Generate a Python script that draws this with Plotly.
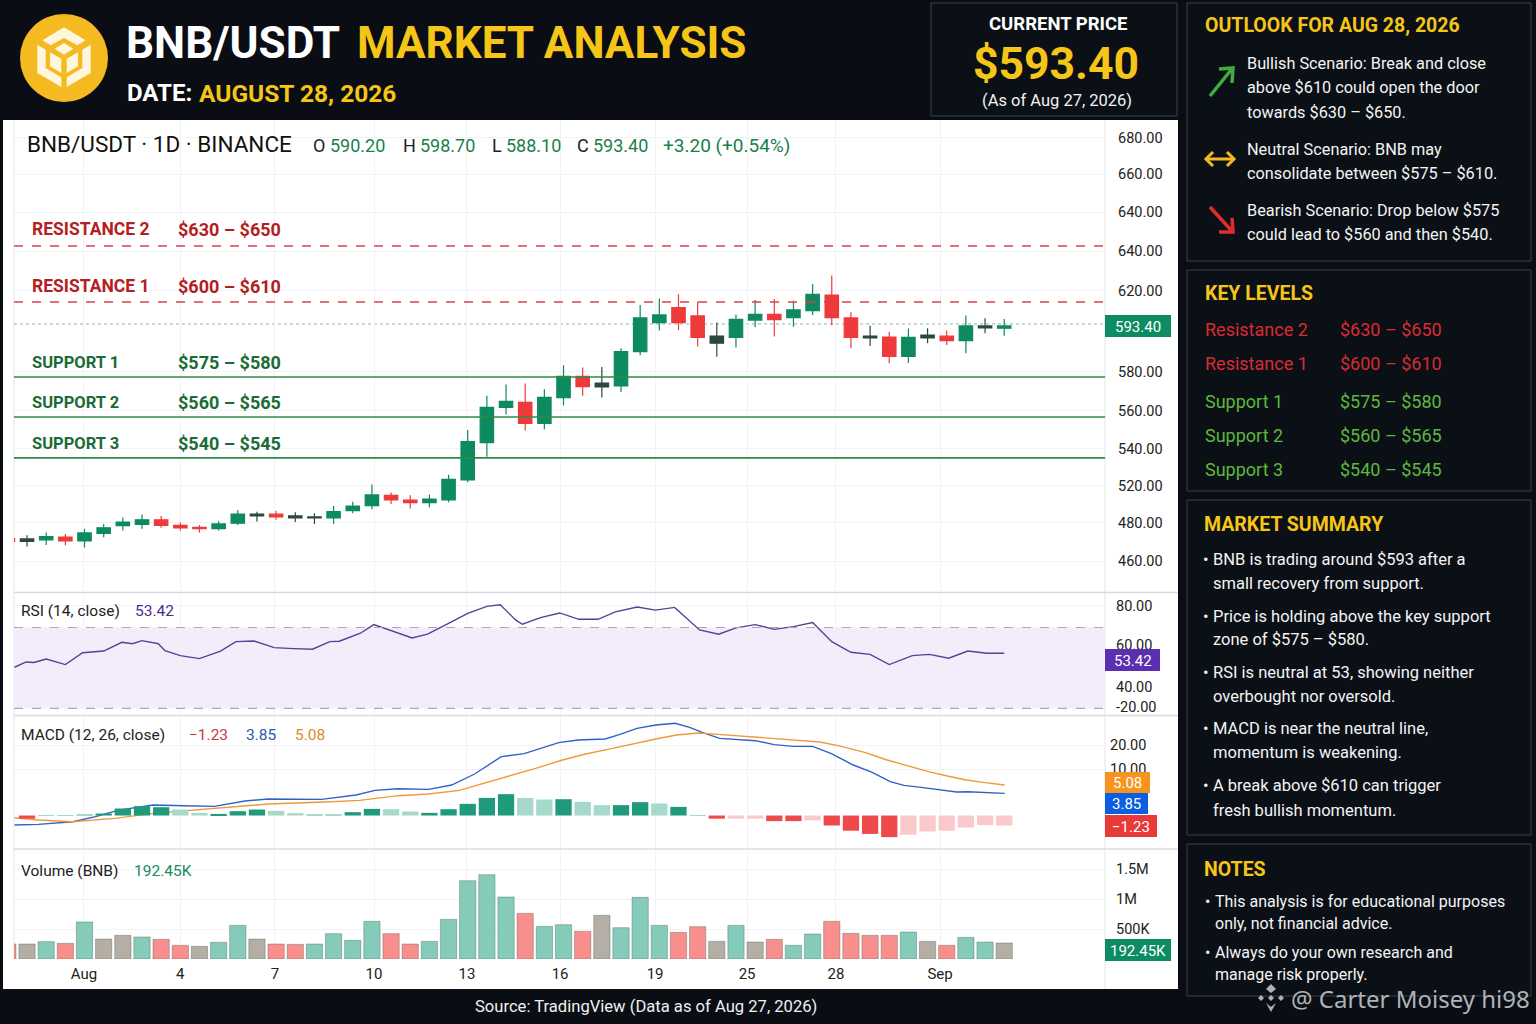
import plotly.graph_objects as go

W, H = 1536, 1024

# price panel, values
candle_x = list(range(-1, 52))
opens = [493.0, 491.6, 492.3, 493.8, 491.8, 495.7, 499.6, 500.3, 502.6, 499.8, 498.8, 498.1, 500.9, 504.6, 505.5, 503.6, 503.6, 503.6,
         507.3, 509.9, 515.2, 512.8, 511.4, 512.8, 523.1, 542.2, 560.3, 562.9, 552.1, 565.3, 576.2, 570.8, 571.3, 588.9, 603.8, 611.5,
         607.2, 593.2, 596.2, 605.1, 608.0, 606.3, 609.9, 617.9, 606.2, 596.8, 596.4, 586.5, 595.9, 596.8, 594.5, 601.0, 600.9]
highs = [494.0, 494.7, 496.1, 495.4, 498.1, 500.5, 503.8, 505.3, 504.6, 501.2, 500.0, 501.9, 507.7, 506.8, 507.3, 506.5, 506.0, 509.7,
         511.9, 520.7, 516.6, 515.2, 515.6, 525.8, 548.7, 566.3, 572.0, 572.5, 569.6, 581.9, 580.7, 581.0, 590.6, 612.8, 616.2, 618.3,
         614.5, 603.8, 607.9, 615.4, 615.9, 615.0, 623.6, 628.0, 609.1, 602.2, 599.1, 600.7, 600.9, 599.7, 607.4, 606.0, 605.6]
lows = [490.6, 488.9, 489.7, 489.6, 488.4, 493.7, 497.1, 498.1, 498.6, 497.1, 496.1, 497.1, 500.0, 501.7, 502.6, 501.5, 500.5, 500.5,
        506.0, 508.0, 510.8, 508.4, 509.1, 511.6, 521.9, 535.0, 556.6, 548.4, 548.9, 561.2, 566.3, 565.3, 568.2, 587.0, 599.7, 600.0,
        591.5, 586.3, 591.0, 601.4, 596.6, 601.7, 607.7, 602.4, 590.6, 591.8, 582.9, 583.1, 593.2, 592.3, 588.0, 598.3, 597.1]
closes = [491.6, 492.8, 494.0, 491.8, 495.9, 498.5, 501.4, 502.6, 499.8, 498.5, 498.1, 500.5, 505.5, 505.5, 504.1, 504.6, 504.1, 506.8,
          509.7, 515.4, 512.8, 511.4, 513.3, 523.4, 542.7, 560.3, 563.4, 552.1, 565.5, 576.2, 570.9, 572.8, 588.9, 606.2, 607.7, 603.8,
          596.2, 596.8, 605.5, 608.0, 605.3, 610.3, 618.3, 606.3, 596.2, 595.9, 586.5, 596.2, 597.4, 594.5, 602.1, 602.1, 602.1]
candle_tone = list("dkuduuuu ddd uu k d kk uuu dd uuuuu d uu d k uuu dd k uu d uu dd k d u k d u k u".replace(" ", ""))

price_ticks = [698.5, 680, 660.5, 640.5, 620, 578.5, 558.5, 539, 520, 501, 481.5]
price_labels = ["680.00", "660.00", "640.00", "640.00", "620.00", "580.00", "560.00", "540.00", "520.00", "480.00", "460.00"]
resistance_levels = [643.1, 614.4]
support_levels = [575.9, 555.4, 534.4]
last_level = 603.1

# rsi
rsi_x = [-0.65, -0.05, 0.36, 1, 2, 2.9, 4, 4.95, 5.5, 6, 6.85, 7.2, 8, 9, 10.1, 10.9, 11.85, 12.9, 13.9, 14.9, 15.8, 16.3, 17.4, 18.1,
         20.1, 20.9, 22.1, 23, 24, 24.7, 25.5, 25.85, 26.8, 27.8, 28.8, 29.2, 29.8, 30.7, 31.85, 32.8, 33.8, 35.1, 36.1, 37, 38, 39,
         40, 41, 42, 43, 44, 45, 46.2, 47.1, 48.1, 49.1, 50.1, 51]
rsi = [50.1, 52.7, 52.4, 54.1, 51.4, 57.2, 58.0, 62.3, 61.6, 63.1, 61.6, 58.2, 55.8, 54.3, 58.0, 62.6, 62.9, 59.7, 59.2, 58.9, 62.6, 62.8,
       66.7, 70.9, 64.4, 66.3, 72.0, 76.4, 79.8, 80.6, 73.2, 71.1, 74.3, 76.6, 73.5, 73.5, 73.5, 77.1, 79.5, 78.0, 79.3, 68.3, 66.2, 69.3,
       70.9, 68.6, 69.9, 71.9, 62.6, 57.4, 56.4, 51.4, 55.8, 56.4, 54.5, 58.0, 56.9, 56.9]
rsi_ticks = [80, 61, 40.5, 30.7]
rsi_labels = ["80.00", "60.00", "40.00", "-20.00"]
rsi_band = [30, 69.5]

# macd
macd_x = [-0.65, 0.59, 2.39, 3.58, 4.78, 6.58, 8.18, 9.78, 11.37, 12.57, 15.37, 17.17, 18.16, 19.36, 20.96, 22.16, 23.36, 24.75, 25.95,
          27.75, 28.75, 29.38, 30.17, 30.95, 31.83, 32.82, 33.82, 34.58, 35.27, 36.15, 37.04, 38.02, 39, 39.98, 41, 41.95, 43.12, 44.11,
          45.05, 45.77, 46.66, 47.44, 48.52, 49.11, 50, 51.02]
macd = [-13.3, -13.06, -11.95, -9.86, -7.1, -5.0, -5.28, -5.56, -3.33, -2.5, -2.64, -0.83, 1.11, 1.8, 1.53, 3.33, 7.92, 15.14, 16.39,
        20.97, 22.08, 22.22, 22.5, 24.44, 26.94, 28.33, 29.03, 27.36, 25.14, 22.78, 22.22, 21.8, 20.14, 19.44, 19.44, 16.5, 11.67, 8.6,
        4.72, 3.19, 2.36, 1.67, 0.42, 0.56, 0.14, -0.14]
signal_x = [-0.65, 0.59, 2.39, 4.58, 6.58, 8.58, 10.57, 12.57, 15.57, 17.37, 19.36, 20.96, 22.56, 23.96, 25.15, 26.55, 27.95, 29.15, 30.56,
            31.74, 32.82, 33.9, 35.07, 36.06, 37.23, 38.41, 39.2, 40.38, 41.36, 42.34, 43.71, 44.89, 46.07, 47.05, 48.03, 49.02, 50, 51.02]
signal = [-10.28, -11.25, -11.95, -10.56, -8.47, -7.08, -5.7, -4.6, -3.75, -3.06, -1.11, -0.42, 1.11, 4.3, 7.08, 10.27, 13.75, 16.25, 18.6,
          20.7, 22.5, 24.17, 25.0, 24.44, 23.75, 23.05, 22.36, 21.67, 21.25, 19.72, 16.94, 13.75, 10.97, 8.89, 7.08, 5.42, 4.31, 3.33]
hist_x = list(range(0, 52))
hist = [-0.4, 0.05, 0.05, 0.15, 0.25, 0.88, 1.17, 1.04, 0.75, 0.33, 0.2, 0.54, 0.75, 0.58, 0.29, 0.17, 0.17, 0.42, 0.83, 0.79, 0.5, 0.33, 0.79,
        1.46, 2.2, 2.67, 2.2, 2.0, 2.04, 1.71, 1.3, 1.3, 1.67, 1.5, 1.08, 0.05, -0.4, -0.4, -0.4, -0.7, -0.7, -0.6, -1.25, -1.9, -2.3, -2.7,
        -2.4, -2.0, -1.9, -1.5, -1.2, -1.25]
hist_strong = [1, 0, 0, 0, 1, 1, 1, 1, 0, 0, 1, 1, 1, 0, 0, 0, 0, 1, 1, 0, 0, 1, 1, 1, 1, 1, 0, 0, 1, 0, 0, 1, 1, 0, 1, 0, 1, 0, 0, 1, 1, 0, 1, 1, 1, 1,
               0, 0, 0, 0, 0, 0]
macd_ticks = [20, 10]
macd_labels = ["20.00", "10.00"]

# volume, in thousands
volume_x = list(range(-1, 52))
volume = [250, 250, 289, 261, 617, 333, 394, 367, 328, 228, 211, 278, 561, 333, 250, 244, 250, 422, 311, 628, 422, 250, 294, 661, 1306, 1406,
          1033, 761, 544, 572, 461, 728, 522, 1028, 561, 444, 539, 294, 561, 283, 328, 228, 417, 628, 428, 394, 394, 450, 294, 228, 361, 283, 267]
volume_tone = list("rngrgnngrrnggnrrggggrrgggggrggrngggrrngnrggrrrrgnrggn")
volume_ticks = [1500, 1000, 500]
volume_labels = ["1.5M", "1M", "500K"]

date_ticks = [2.97, 7.99, 12.94, 18.11, 22.96, 27.82, 32.78, 37.58, 42.22, 47.65]
date_labels = ["Aug", "4", "7", "10", "13", "16", "19", "25", "28", "Sep"]

BG = "#0a0e14"
GOLD = "#f5c518"
UP = "#0e8a5f"
DOWN = "#ee3a3a"
DARK = "#2b4a3d"
BODY = "Roboto"
X_RANGE = [-0.68, 56.26]


def fx(x):
    return x / W


def fy(y):
    return 1 - y / H


def dom(top, bottom):
    return [fy(bottom), fy(top)]


fig = go.Figure()

for tone, color in [("u", UP), ("d", DOWN), ("k", DARK)]:
    ids = [i for i, t in enumerate(candle_tone) if t == tone]
    fig.add_trace(go.Candlestick(
        x=[candle_x[i] for i in ids], open=[opens[i] for i in ids], high=[highs[i] for i in ids],
        low=[lows[i] for i in ids], close=[closes[i] for i in ids],
        increasing=dict(line=dict(color=color, width=1.2), fillcolor=color),
        decreasing=dict(line=dict(color=color, width=1.2), fillcolor=color),
        whiskerwidth=0, showlegend=False, xaxis="x", yaxis="y"))

fig.add_trace(go.Scatter(x=rsi_x, y=rsi, mode="lines", line=dict(color="#5a3f95", width=1.4), showlegend=False, xaxis="x2", yaxis="y2"))

hist_colors = []
for v, s in zip(hist, hist_strong):
    if v >= 0:
        hist_colors.append("#1f9a7c" if s else "#a6d8cb")
    else:
        hist_colors.append("#ee4a4c" if s else "#fbc8cb")
fig.add_trace(go.Bar(x=hist_x, y=hist, width=0.85, marker=dict(color=hist_colors, line=dict(width=0)), showlegend=False, xaxis="x3", yaxis="y5"))
fig.add_trace(go.Scatter(x=macd_x, y=macd, mode="lines", line=dict(color="#2f62c8", width=1.4), showlegend=False, xaxis="x3", yaxis="y3"))
fig.add_trace(go.Scatter(x=signal_x, y=signal, mode="lines", line=dict(color="#ee9a3a", width=1.4), showlegend=False, xaxis="x3", yaxis="y3"))

tone_colors = {"g": "#86cbb9", "r": "#f98f8c", "n": "#b5aea5"}
fig.add_trace(go.Bar(x=volume_x, y=volume, width=0.85,
                     marker=dict(color=[tone_colors[t] for t in volume_tone], line=dict(color="rgba(60,90,80,0.35)", width=1)),
                     showlegend=False, xaxis="x4", yaxis="y4"))

shapes = []
annotations = []


def rect(x0, y0, x1, y1, fill=None, line=None, width=1, layer="below"):
    shapes.append(dict(type="rect", xref="paper", yref="paper", x0=fx(x0), x1=fx(x1), y0=fy(y0), y1=fy(y1),
                       fillcolor=fill if fill else "rgba(0,0,0,0)", line=dict(color=line if line else "rgba(0,0,0,0)", width=width if line else 0), layer=layer))


def seg(x0, y0, x1, y1, color, width=1):
    shapes.append(dict(type="line", xref="paper", yref="paper", x0=fx(x0), x1=fx(x1), y0=fy(y0), y1=fy(y1),
                       line=dict(color=color, width=width), layer="below"))


def poly(points, fill):
    d = "M " + " L ".join(f"{fx(x):.5f},{fy(y):.5f}" for x, y in points) + " Z"
    shapes.append(dict(type="path", xref="paper", yref="paper", path=d, fillcolor=fill, line=dict(width=0), layer="above"))


def stroke(points, color, width=3.5):
    d = "M " + " L ".join(f"{fx(x):.5f},{fy(y):.5f}" for x, y in points)
    shapes.append(dict(type="path", xref="paper", yref="paper", path=d, line=dict(color=color, width=width), layer="above"))


def txt(x, y, s, size, color="#ffffff", anchor="left", bold=False, font=BODY):
    x = x - 1 if anchor == "left" else x
    annotations.append(dict(x=fx(x), y=fy(y), xref="paper", yref="paper", text=f"<b>{s}</b>" if bold else s, showarrow=False,
                            xanchor=anchor, yanchor="middle", align=anchor, borderpad=0,
                            font=dict(family=font, size=size, color=color)))


def tag(x0, y0, x1, y1, s, fill):
    rect(x0, y0, x1, y1, fill=fill, layer="above")
    txt((x0 + x1) / 2, (y0 + y1) / 2 + 0.5, s, 15, anchor="center")


# chart card and panel rules
rect(3, 120, 1178, 989, fill="#ffffff")
seg(14, 120, 14, 960, "#e2e5ea")
seg(1105, 120, 1105, 989, "#e2e5ea")
for rule in [592.5, 715.5, 849]:
    seg(14, rule, 1178, rule, "#d8dce2", 1.4)

# side boxes
for x0, y0, x1, y1 in [(931, 3, 1177, 116), (1187, 3, 1531, 261), (1187, 270, 1531, 491), (1187, 500, 1531, 835), (1187, 844, 1531, 996)]:
    rect(x0, y0, x1, y1, fill="#0b1017", line="#394049")

# logo
shapes.append(dict(type="circle", xref="paper", yref="paper", x0=fx(20), x1=fx(108), y0=fy(102), y1=fy(14),
                   fillcolor="#f5b921", line=dict(width=0), layer="below"))
poly([(64, 27.3), (85.7, 40.3), (77.3, 45.3), (64, 38), (50.7, 45.3), (42.3, 40.3)], "#fff6dc")
poly([(64, 43), (73.3, 48.7), (64, 54.7), (54.7, 48.7)], "#fff6dc")
poly([(37.3, 44.7), (45.7, 49.7), (45.7, 68), (61.3, 77.3), (61.3, 87), (37.3, 73)], "#fff6dc")
poly([(50, 52.3), (61.3, 58.7), (61.3, 73), (50, 66.3)], "#fff6dc")
poly([(90.7, 44.7), (82.3, 49.7), (82.3, 68), (66.7, 77.3), (66.7, 87), (90.7, 73)], "#fff6dc")
poly([(78, 52.3), (66.7, 58.7), (66.7, 73), (78, 66.3)], "#fff6dc")

# header
txt(126, 43, "BNB/USDT", 44, bold=True)
txt(357, 43, "MARKET ANALYSIS", 44, GOLD, bold=True)
txt(127, 93, "DATE:", 24, bold=True)
txt(199, 93, "AUGUST 28, 2026", 24.5, GOLD, bold=True)
txt(1058, 24, "CURRENT PRICE", 18.5, anchor="center", bold=True)
txt(1056, 64, "$593.40", 44.5, GOLD, "center", True)
txt(1057, 100, "(As of Aug 27, 2026)", 16.5, "#f2f2f2", anchor="center")

# chart titles
txt(27, 144, "BNB/USDT · 1D · BINANCE", 22.5, "#111111")
for x, s in [(313, "O"), (403, "H"), (492, "L"), (577, "C")]:
    txt(x, 145, s, 18, "#222222")
for x, s in [(330, "590.20"), (420, "598.70"), (506, "588.10"), (593, "593.40")]:
    txt(x, 145, s, 18, "#1a7f4b")
txt(663, 145, "+3.20 (+0.54%)", 19, "#1a7f4b")
for y, a, b in [(229, "RESISTANCE 2", "$630 – $650"), (286, "RESISTANCE 1", "$600 – $610")]:
    txt(32, y, a, 17.5, "#b51d23", bold=True)
    txt(178, y, b, 18, "#b51d23", bold=True)
for y, a, b in [(362, "SUPPORT 1", "$575 – $580"), (402, "SUPPORT 2", "$560 – $565"), (443, "SUPPORT 3", "$540 – $545")]:
    txt(32, y, a, 16.5, "#1a6b35", bold=True)
    txt(178, y, b, 18, "#1a6b35", bold=True)
txt(21, 611, "RSI (14, close)", 15.5, "#222222")
txt(135, 611, "53.42", 15.5, "#4b2a8c")
txt(21, 735, "MACD (12, 26, close)", 15.5, "#222222")
txt(189, 735, "−1.23", 15.5, "#c63a3a")
txt(246, 735, "3.85", 15.5, "#2d55b5")
txt(295, 735, "5.08", 15.5, "#e08a2c")
txt(21, 871, "Volume (BNB)", 15.5, "#222222")
txt(134, 871, "192.45K", 15.5, "#1a8a62")

# last value tags
tag(1105, 315, 1171, 337, "593.40", "#0d8c63")
tag(1105, 649, 1160, 671, "53.42", "#5b2fb0")
tag(1105, 772, 1150, 793, "5.08", "#f7941d")
tag(1105, 793, 1148, 814, "3.85", "#0b5fe0")
tag(1105, 815, 1157, 837, "−1.23", "#e93a3a")
tag(1105, 939, 1171, 961, "192.45K", "#0d8c63")

# outlook
txt(1205, 25, "OUTLOOK FOR AUG 28, 2026", 19.5, GOLD, bold=True)
stroke([(1210, 96), (1231, 70)], "#3fae3f")
stroke([(1219, 69), (1233, 68), (1232, 83)], "#3fae3f")
stroke([(1207, 159), (1233, 159)], "#f5b921", 3)
stroke([(1213, 152), (1206, 159), (1213, 166)], "#f5b921", 3)
stroke([(1227, 152), (1234, 159), (1227, 166)], "#f5b921", 3)
stroke([(1210, 207), (1231, 230)], "#e12d2d")
stroke([(1219, 232), (1233, 232), (1232, 218)], "#e12d2d")
for y, s in [(63, "Bullish Scenario: Break and close"), (87, "above $610 could open the door"), (112, "towards $630 – $650."),
             (149, "Neutral Scenario: BNB may"), (173, "consolidate between $575 – $610."),
             (210, "Bearish Scenario: Drop below $575"), (234, "could lead to $560 and then $540.")]:
    txt(1247, y, s, 16.3, "#f4f4f4")

# key levels
txt(1205, 293, "KEY LEVELS", 19.5, GOLD, bold=True)
for y, a, b, c in [(329, "Resistance 2", "$630 – $650", "#d92b30"), (363, "Resistance 1", "$600 – $610", "#d92b30"),
                   (401, "Support 1", "$575 – $580", "#5cb83a"), (435, "Support 2", "$560 – $565", "#5cb83a"),
                   (469, "Support 3", "$540 – $545", "#5cb83a")]:
    txt(1205, y, a, 18, c)
    txt(1340, y, b, 18, c)

# market summary
txt(1204, 524, "MARKET SUMMARY", 19.5, GOLD, bold=True)
for y, s, first in [(559, "BNB is trading around $593 after a", 1), (583, "small recovery from support.", 0),
                    (616, "Price is holding above the key support", 1), (639, "zone of $575 – $580.", 0),
                    (672, "RSI is neutral at 53, showing neither", 1), (696, "overbought nor oversold.", 0),
                    (728, "MACD is near the neutral line,", 1), (752, "momentum is weakening.", 0),
                    (785, "A break above $610 can trigger", 1), (810, "fresh bullish momentum.", 0)]:
    if first:
        txt(1203, y, "•", 16.5, "#f4f4f4")
    txt(1213, y, s, 16.5, "#f4f4f4")

# notes
txt(1204, 869, "NOTES", 19.5, GOLD, bold=True)
for y, s, first in [(901, "This analysis is for educational purposes", 1), (923, "only, not financial advice.", 0),
                    (952, "Always do your own research and", 1), (974, "manage risk properly.", 0)]:
    if first:
        txt(1205, y, "•", 16, "#f4f4f4")
    txt(1215, y, s, 16, "#f4f4f4")

# footer and watermark
txt(646, 1006, "Source: TradingView (Data as of Aug 27, 2026)", 16.6, "#f0f0f0", anchor="center")
txt(1291, 998, "@ Carter Moisey hi98", 24, "#aeb3b8", font="Noto Sans")
poly([(1271, 984), (1276, 989), (1271, 993), (1266, 989)], "#aeb3b8")
poly([(1271, 995), (1274, 998), (1271, 1001), (1268, 998)], "#aeb3b8")
poly([(1266, 1003), (1271, 1007), (1276, 1003), (1271, 1012)], "#aeb3b8")
poly([(1258, 998), (1261, 995), (1264, 998), (1261, 1001)], "#aeb3b8")
poly([(1278, 998), (1281, 995), (1284, 998), (1281, 1001)], "#aeb3b8")

# price levels and the rsi band
for level in resistance_levels:
    shapes.append(dict(type="line", xref="x domain", yref="y", x0=0, x1=1, y0=level, y1=level, line=dict(color="#d9434a", width=1.5, dash="dash")))
for level in support_levels:
    shapes.append(dict(type="line", xref="x domain", yref="y", x0=0, x1=1, y0=level, y1=level, line=dict(color="#2f8a4a", width=1.6)))
shapes.append(dict(type="line", xref="x domain", yref="y", x0=0, x1=1, y0=last_level, y1=last_level, layer="below", line=dict(color="#8fb5a6", width=1, dash="dot")))
shapes.append(dict(type="rect", xref="x2 domain", yref="y2", x0=0, x1=1, y0=rsi_band[0], y1=rsi_band[1], fillcolor="#f3ecfa", line=dict(width=0), layer="below"))
for level in rsi_band:
    shapes.append(dict(type="line", xref="x2 domain", yref="y2", x0=0, x1=1, y0=level, y1=level, line=dict(color="#a9a9b3", width=1.2, dash="dash")))

grid = "#f2f3f6"
tick_font = dict(family=BODY, size=14.5, color="#222222")


def x_axis(anchor, labels=False):
    return dict(domain=[fx(14), fx(1105)], range=X_RANGE, anchor=anchor, tickmode="array", tickvals=date_ticks, ticktext=date_labels if labels else [""] * len(date_ticks),
                showgrid=True, gridcolor=grid, gridwidth=1, zeroline=False, showline=False, ticks="", rangeslider=dict(visible=False),
                tickfont=dict(family=BODY, size=15, color="#222222"), ticklabelstandoff=4)


def y_axis(anchor, top, bottom, lo, hi, vals, text, standoff):
    return dict(domain=dom(top, bottom), range=[lo, hi], anchor=anchor, side="right", tickmode="array", tickvals=vals, ticktext=text,
                showgrid=True, gridcolor=grid, gridwidth=1, zeroline=False, showline=False, ticks="", tickfont=tick_font, ticklabelstandoff=standoff)


fig.update_layout(
    width=W, height=H, margin=dict(l=0, r=0, t=0, b=0), autosize=False,
    paper_bgcolor=BG, plot_bgcolor="rgba(0,0,0,0)", showlegend=False, boxmode="overlay", boxgap=0.3, boxgroupgap=0, barmode="overlay",
    xaxis=x_axis("y"), xaxis2=x_axis("y2"), xaxis3=x_axis("y3"), xaxis4=x_axis("y4", True),
    yaxis=y_axis("x", 120, 592, 465.6, 707.7, price_ticks, price_labels, 12),
    yaxis2=y_axis("x2", 594, 715, 26.8, 85.85, rsi_ticks, rsi_labels, 10),
    yaxis3=y_axis("x3", 716, 848, -22.9, 32.08, macd_ticks, macd_labels, 4),
    yaxis4=y_axis("x4", 850, 959, 0, 1817, volume_ticks, volume_labels, 10),
    yaxis5=dict(domain=dom(716, 848), range=[-4.06, 12.44], anchor="x3", overlaying="y3", side="right", visible=False),
    shapes=shapes, annotations=annotations,
)

fig.write_html("out.html", config={"displayModeBar": False}, post_script="document.body.style.margin='0';document.body.style.overflow='hidden';")
